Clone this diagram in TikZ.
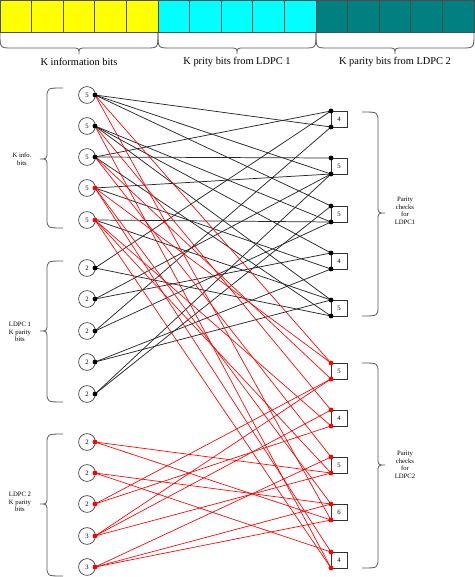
\documentclass[tikz,border=0pt]{standalone}
\usepackage{fontspec}
\setmainfont{Liberation Serif}
\definecolor{cellcyan}{RGB}{0,255,255}
\definecolor{cellteal}{RGB}{0,128,128}
\definecolor{cellyellow}{RGB}{255,255,0}
\begin{document}
\begin{tikzpicture}[x=0.75pt,y=-0.75pt,
 blk/.style={line width=0.55pt, black!85},
 rd/.style={line width=0.5pt, red},
 varnode/.style={circle, draw=black!80, line width=0.5pt, fill=white, minimum size=12.6pt, inner sep=0pt, font=\fontsize{5}{5}\selectfont},
 chknode/.style={rectangle, draw=black!80, line width=0.5pt, fill=white, minimum size=12pt, inner sep=0pt, font=\fontsize{5}{5}\selectfont},
 dotk/.style={circle, fill=black, inner sep=0pt, minimum size=3.6pt},
 dotr/.style={circle, fill=red, inner sep=0pt, minimum size=3.6pt},
 bracestyle/.style={draw=black!65, line width=0.6pt},
 cell/.style={draw=black!70, line width=0.5pt},
 lbl/.style={font=\fontsize{7.8}{8}\selectfont},
 sml/.style={font=\fontsize{5}{5.6}\selectfont, align=center},
]
\useasboundingbox (0,0) rectangle (474,577);
% top bar
\foreach \i in {0,...,4} \draw[cell, fill=cellyellow] ({\i*31.6},0) rectangle ({(\i+1)*31.6},32);
\foreach \i in {5,...,9} \draw[cell, fill=cellcyan] ({\i*31.6},0) rectangle ({(\i+1)*31.6},32);
\foreach \i in {10,...,14} \draw[cell, fill=cellteal] ({\i*31.6},0) rectangle ({(\i+1)*31.6},32);
% top braces
\foreach \xa/\xm/\xb in {0/79/158, 158/237/316, 316/395/474}
  \draw[bracestyle] (\xa,33) .. controls (\xa,48) .. ({\xa+12},48) -- ({\xm-8},48) .. controls (\xm,48) .. (\xm,54) .. controls (\xm,48) .. ({\xm+8},48) -- ({\xb-12},48) .. controls (\xb,48) .. (\xb,33);
\node[lbl] (t1) at (79,62) {K information bits};
\node[lbl] (t2) at (237,62) {K prity bits from LDPC 1};
\node[lbl] (t3) at (395,62) {K parity bits from LDPC 2};
% left braces
\foreach \ya/\ym/\yb in {88/159/228, 261/331/402, 434/504/576}
  \draw[bracestyle] (63,\ya) .. controls (47,\ya) .. (47,{\ya+10}) -- (47,{\ym-8}) .. controls (47,\ym) .. (40,\ym) .. controls (47,\ym) .. (47,{\ym+8}) -- (47,{\yb-10}) .. controls (47,\yb) .. (63,\yb);
\node[sml] (l1) at (22,159) {K info.\\bits};
\node[sml] (l2) at (20,332) {LDPC 1\\K parity\\bits};
\node[sml] (l3) at (20,502) {LDPC 2\\K parity\\bits};
% right braces
\foreach \ya/\ym/\yb in {112/213/316, 363/465/568}
  \draw[bracestyle] (362,\ya) .. controls (378,\ya) .. (378,{\ya+10}) -- (378,{\ym-8}) .. controls (378,\ym) .. (385,\ym) .. controls (378,\ym) .. (378,{\ym+8}) -- (378,{\yb-10}) .. controls (378,\yb) .. (362,\yb);
\node[sml] (r1) at (405,211) {Parity\\checks\\for\\LDPC1};
\node[sml] (r2) at (405,465) {Parity\\checks\\for\\LDPC2};
% variable dot coordinates
\foreach \n/\y in {i1/95, i2/126, i3/157, i4/188, i5/220, p1/268, p2/299, p3/331, p4/362, p5/394, q1/442, q2/473, q3/504, q4/536, q5/567}
  \coordinate (\n) at (95,\y);
% check dot coordinates
\foreach \n/\y in {c1/111, c2/158, c3/206, c4/253, c5/300, d1/363, d2/410, d3/457, d4/504, d5/552} {
  \coordinate (\n t) at (331,\y);
  \coordinate (\n b) at (331,{\y+16});
}
% black edges
\foreach \a/\b in {i1/c1b, i1/c2b, i1/c3t, i2/c3b, i2/c4t, i2/c5t, i3/c1t, i3/c2t, i3/c5b, i4/c2b, i4/c4b, i5/c3b, i5/c5t, p1/c1t, p1/c5b, p2/c2b, p2/c4t, p3/c1b, p3/c3b, p4/c4b, p4/c5t, p5/c2b, p5/c3t}
  \draw[blk] (\a) -- (\b);
% red edges
\foreach \a/\b in {i1/d1t, i1/d4b, i2/d2t, i2/d5b, i3/d1b, i3/d3t, i4/d1t, i4/d4t, i4/d5t, i5/d2b, i5/d3b, i5/d5b, q1/d3b, q1/d4b, q2/d4t, q2/d5t, q3/d1b, q3/d2b, q4/d1b, q4/d2t, q4/d3b, q5/d3t, q5/d4t, q5/d4b}
  \draw[rd] (\a) -- (\b);
% variable nodes
\foreach \n/\y/\v in {i1/95/5, i2/126/5, i3/157/5, i4/188/5, i5/220/5, p1/268/2, p2/299/2, p3/331/2, p4/362/2, p5/394/2, q1/442/2, q2/473/2, q3/504/2, q4/536/3, q5/567/3}
  \node[varnode] (v\n) at (87,\y) {\v};
% check nodes
\foreach \n/\y/\v in {c1/111/4, c2/158/5, c3/206/5, c4/253/4, c5/300/5, d1/363/5, d2/410/4, d3/457/5, d4/504/6, d5/552/4}
  \node[chknode] (s\n) at (339,{\y+8}) {\v};
% dots
\foreach \n in {i1,i2,i3,p1,p2,p3,p4,p5} \node[dotk] (k\n) at (\n) {};
\foreach \n in {i4,i5,q1,q2,q3,q4,q5} \node[dotr] (k\n) at (\n) {};
\foreach \n in {c1,c2,c3,c4,c5} { \node[dotk] (k\n t) at (\n t) {}; \node[dotk] (k\n b) at (\n b) {}; }
\foreach \n in {d1,d2,d3,d4,d5} { \node[dotr] (k\n t) at (\n t) {}; \node[dotr] (k\n b) at (\n b) {}; }
\end{tikzpicture}
\end{document}
